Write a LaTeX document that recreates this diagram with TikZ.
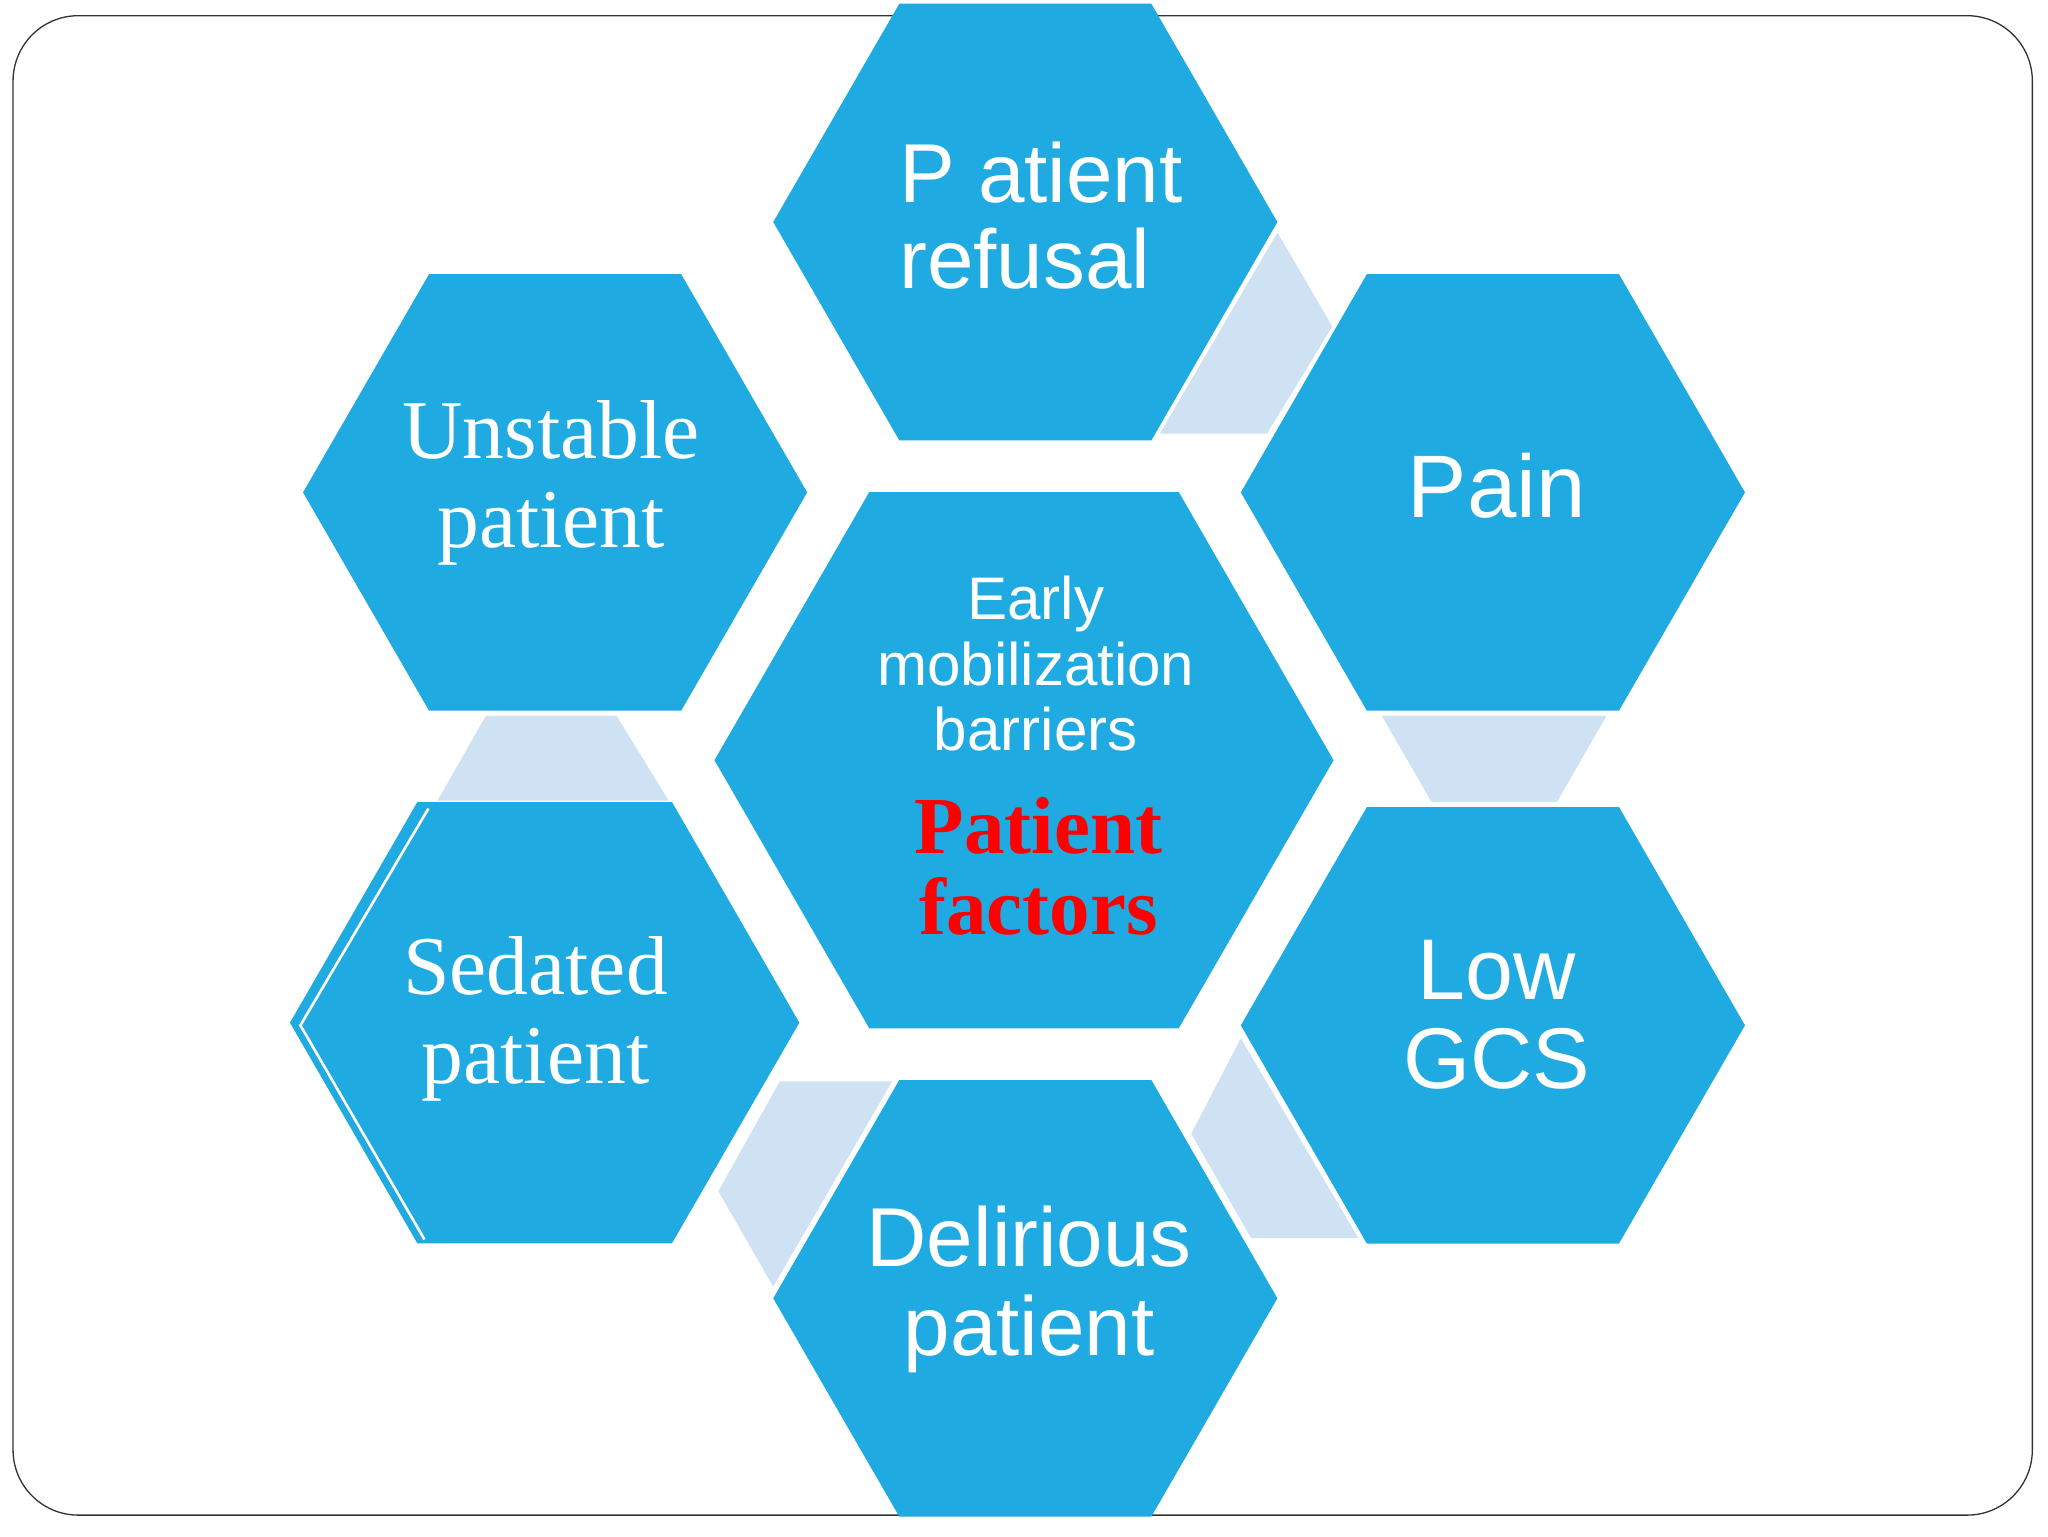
\documentclass[tikz,border=0pt]{standalone}
\usepackage{fontspec}
\setmainfont{Liberation Serif}
\newfontfamily\sansf{Liberation Sans}
\begin{document}
\begin{tikzpicture}[x=1pt,y=-1pt,
  hexa/.style={fill=hexblue,draw=none},
  link/.style={fill=linkblue,draw=none},
  lbl/.style={text=white,align=center,inner sep=0pt}]
\definecolor{hexblue}{HTML}{1FAAE2}
\definecolor{linkblue}{HTML}{CFE2F3}
\useasboundingbox (0,0) rectangle (1568,1176);
\fill[white] (0,0) rectangle (1568,1176);
\draw[line width=1pt,rounded corners=50pt,black!80] (10,12) rectangle (1556,1160);
% links
\fill[link] (978,178) -- (1020,250) -- (970,332) -- (888,332) -- cycle;
\fill[link] (1058,548) -- (1230,548) -- (1192,614) -- (1096,614) -- cycle;
\fill[link] (950,795) -- (1040,948) -- (958,948) -- (912,868) -- cycle;
\fill[link] (597,828) -- (683,828) -- (592,985) -- (550,912) -- cycle;
\fill[link] (372,548) -- (472,548) -- (512,613) -- (335,613) -- cycle;
% hexagons
\newcommand{\hexat}[3]{\fill[hexa] (#1+#3,#2) -- (#1+0.5*#3,#2+0.866*#3) -- (#1-0.5*#3,#2+0.866*#3) -- (#1-#3,#2) -- (#1-0.5*#3,#2-0.866*#3) -- (#1+0.5*#3,#2-0.866*#3) -- cycle;}
\hexat{785}{170}{193}
\hexat{425}{377}{193}
\hexat{784}{582}{237}
\hexat{1143}{377}{193}
\hexat{417}{783}{195}
\hexat{1143}{785}{193}
\hexat{785}{994}{193}
\draw[white,line width=2pt] (328,619) -- (230,785) -- (325,949);
% texts
\node[lbl,align=left,font=\sansf\fontsize{64}{66}\selectfont] (t1) at (797,165) {P atient\\refusal};
\node[lbl,font=\fontsize{64}{68}\selectfont] (t2) at (422,370) {Unstable\\patient};
\node[lbl,font=\sansf\fontsize{46}{50}\selectfont] (t3) at (793,508) {Early\\mobilization\\barriers};
\node[lbl,text=red,font=\bfseries\fontsize{62}{62}\selectfont] (t4) at (795,663) {Patient\\factors};
\node[lbl,font=\sansf\fontsize{68}{70}\selectfont] (t5) at (1146,372) {Pain};
\node[lbl,font=\fontsize{64}{68}\selectfont] (t6) at (410,780) {Sedated\\patient};
\node[lbl,font=\sansf\fontsize{66}{68}\selectfont] (t7) at (1146,777) {Low\\GCS};
\node[lbl,font=\sansf\fontsize{64}{68}\selectfont] (t8) at (788,987) {Delirious\\patient};
\end{tikzpicture}
\end{document}
